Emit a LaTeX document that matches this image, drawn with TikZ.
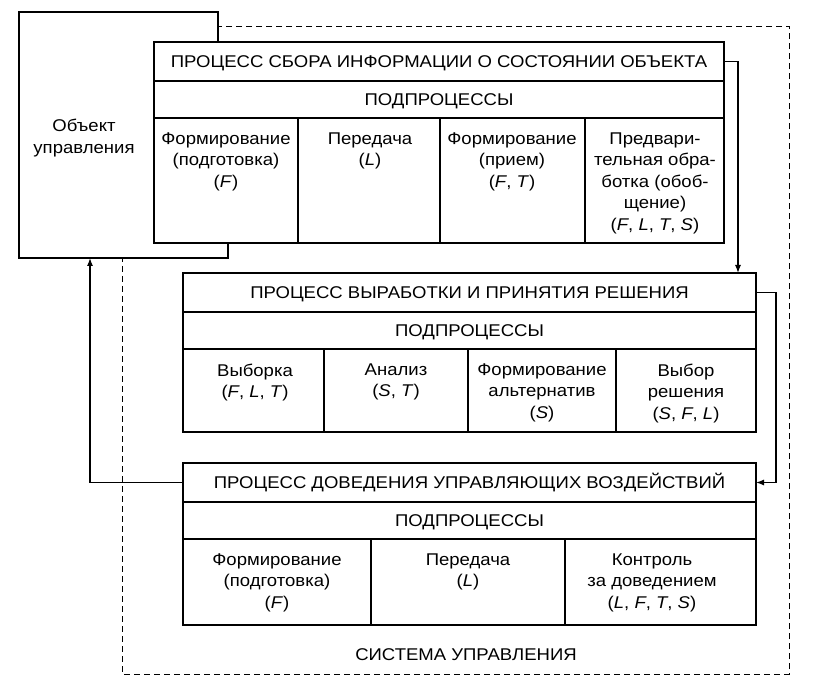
\documentclass[tikz,border=0pt]{standalone}
\usepackage{fontspec}
\setmainfont[FakeStretch=1.09]{Liberation Sans}
\usetikzlibrary{calc,arrows.meta}

\tikzset{
  row/.style={draw, fill=white, outer sep=0pt, inner sep=0pt, minimum width=#1, text height=12pt, text depth=0pt},
  cells/.style={draw, fill=white, outer sep=0pt, inner sep=0pt, minimum width=#1},
  txt/.style={anchor=north, inner sep=0pt, align=center},
}

\begin{document}
\begin{tikzpicture}[x=1pt, y=-1pt, line width=1.2pt, >={Latex[length=8pt, width=6pt]},
  font=\fontsize{17}{21.5}\selectfont]
\useasboundingbox (0,0) rectangle (815,698);

\draw [dashed, dash pattern=on 6pt off 4pt, line width=0.9pt] (122,26) rectangle (789,674);
\node at (466,655) (sys) {СИСТЕМА УПРАВЛЕНИЯ};

\filldraw [fill=white] (19,12) -- (218,12) -- (218,243) -- (228,243) -- (228,258) -- (19,258) -- cycle;
\node [align=center] (obj) at (84,138) {Объект\\управления};
\coordinate (objin) at (90,258);

\node [row=570pt, minimum height=39pt, anchor=north west] (T1) at (154,42) {ПРОЦЕСС СБОРА ИНФОРМАЦИИ О СОСТОЯНИИ ОБЪЕКТА};
\node [row=570pt, minimum height=37pt, anchor=north west] (S1) at (T1.south west) {ПОДПРОЦЕССЫ};
\node [cells=570pt, minimum height=125pt, anchor=north west] (C1) at (S1.south west) {};
\draw (298,118) -- (298,243);
\draw (440,118) -- (440,243);
\draw (585,118) -- (585,243);
\node [txt] (c11) at (226,132) {Формирование\\(подготовка)\\(\textit{F})};
\node [txt] (c12) at (370,132) {Передача\\(\textit{L})};
\node [txt] (c13) at (512,132) {Формирование\\(прием)\\(\textit{F}, \textit{T})};
\node [txt] (c14) at (655,132) {Предвари-\\тельная обра-\\ботка (обоб-\\щение)\\(\textit{F}, \textit{L}, \textit{T}, \textit{S})};

\node [row=573pt, minimum height=39pt, anchor=north west] (T2) at (183,273) {ПРОЦЕСС ВЫРАБОТКИ И ПРИНЯТИЯ РЕШЕНИЯ};
\node [row=573pt, minimum height=37pt, anchor=north west] (S2) at (T2.south west) {ПОДПРОЦЕССЫ};
\node [cells=573pt, minimum height=83pt, anchor=north west] (C2) at (S2.south west) {};
\draw (324,349) -- (324,432);
\draw (468,349) -- (468,432);
\draw (616,349) -- (616,432);
\node [txt] (c21) at (255,363) {Выборка\\(\textit{F}, \textit{L}, \textit{T})};
\node [txt] (c22) at (396,363) {Анализ\\(\textit{S}, \textit{T})};
\node [txt] (c23) at (542,363) {Формирование\\альтернатив\\(\textit{S})};
\node [txt] (c24) at (686,363) {Выбор\\решения\\(\textit{S}, \textit{F}, \textit{L})};

\node [row=573pt, minimum height=39pt, anchor=north west] (T3) at (183,463) {ПРОЦЕСС ДОВЕДЕНИЯ УПРАВЛЯЮЩИХ ВОЗДЕЙСТВИЙ};
\node [row=573pt, minimum height=37pt, anchor=north west] (S3) at (T3.south west) {ПОДПРОЦЕССЫ};
\node [cells=573pt, minimum height=86pt, anchor=north west] (C3) at (S3.south west) {};
\draw (371,539) -- (371,625);
\draw (565,539) -- (565,625);
\node [txt] (c31) at (277,553) {Формирование\\(подготовка)\\(\textit{F})};
\node [txt] (c32) at (468,553) {Передача\\(\textit{L})};
\node [txt] (c33) at (652,553) {Контроль\\за доведением\\(\textit{L}, \textit{F}, \textit{T}, \textit{S})};

\draw [->] (T1.east) -| ($(T2.north east)+(-18,0)$);
\draw [->] (T2.east) -- ++(20,0) |- (T3.east);
\draw [->] (T3.west) -| (objin);
\end{tikzpicture}
\end{document}
